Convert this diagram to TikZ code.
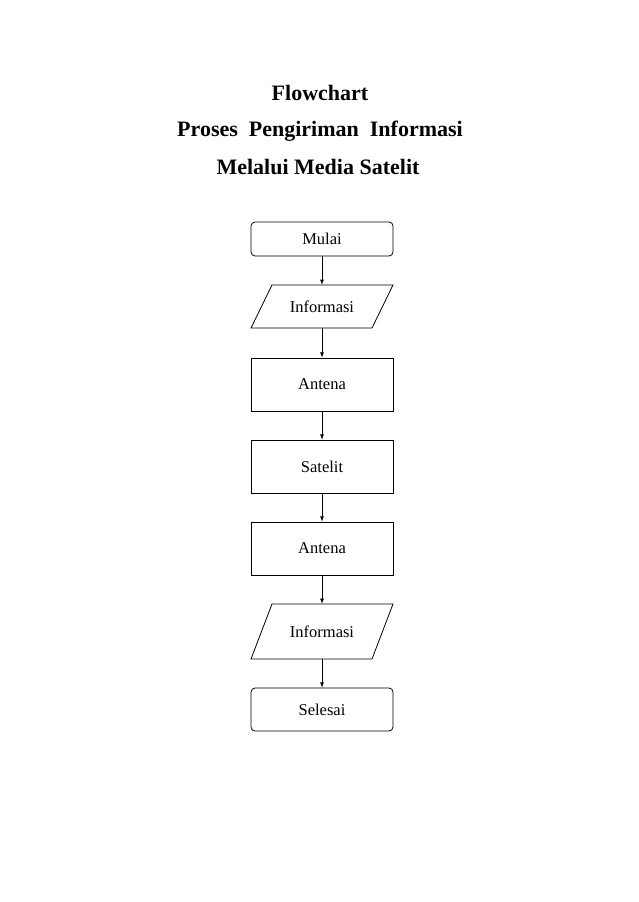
\documentclass[tikz,border=0pt]{standalone}
\usepackage{fontspec}
\setmainfont{Liberation Serif}
\begin{document}
\begin{tikzpicture}[x=1pt,y=-1pt,
  box/.style={draw,line width=0.8pt,minimum width=142pt,font=\fontsize{16.5}{18}\selectfont},
  rbox/.style={box,rounded corners=4pt},
  arr/.style={-latex,line width=0.8pt},
  ttl/.style={font=\fontsize{22}{26}\selectfont\bfseries}]
\useasboundingbox (0,0) rectangle (638,902);
\node[ttl] (t1) at (320,93) {Flowchart};
\node[ttl] (t2) at (320,131) {Proses\ \ Pengiriman\ \ Informasi};
\node[ttl] (t3) at (318,167) {Melalui Media Satelit};
\node[rbox,minimum height=34pt] (mulai) at (322,239) {Mulai};
\node[minimum width=142pt,minimum height=43pt,font=\fontsize{16.5}{18}\selectfont] (inf1) at (322,306.5) {Informasi};
\draw[line width=0.8pt] (272,285)--(393,285)--(372,328)--(251,328)--cycle;
\node[box,minimum height=53pt] (ant1) at (322,384.5) {Antena};
\node[box,minimum height=53pt] (sat) at (322,466.5) {Satelit};
\node[box,minimum height=53pt] (ant2) at (322,548.5) {Antena};
\node[minimum width=142pt,minimum height=55pt,font=\fontsize{16.5}{18}\selectfont] (inf2) at (322,631.5) {Informasi};
\draw[line width=0.8pt] (272,604)--(393,604)--(372,659)--(251,659)--cycle;
\node[rbox,minimum height=43pt] (sel) at (322,709.5) {Selesai};
\draw[arr] (mulai.south)--(inf1.north);
\draw[arr] (inf1.south)--(ant1.north);
\draw[arr] (ant1.south)--(sat.north);
\draw[arr] (sat.south)--(ant2.north);
\draw[arr] (ant2.south)--(inf2.north);
\draw[arr] (inf2.south)--(sel.north);
\end{tikzpicture}
\end{document}
